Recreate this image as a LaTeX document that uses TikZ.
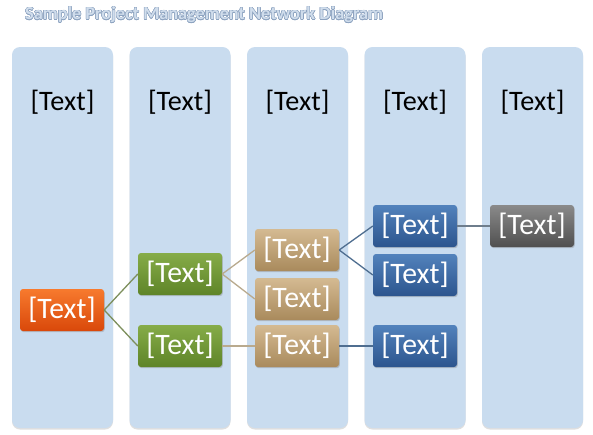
\documentclass[tikz,border=0pt]{standalone}
\usepackage{fontspec}
\setmainfont{Carlito}
\usepackage{xcolor}
\usepackage{contour}
\usetikzlibrary{calc}
\usetikzlibrary{shadows}

\definecolor{colfill}{HTML}{C9DCEF}
\definecolor{titlefill}{HTML}{D0DDEC}
\definecolor{titleline}{HTML}{8DA3C0}
\definecolor{orangetop}{HTML}{F77A2E}
\definecolor{orangebot}{HTML}{D9480A}
\definecolor{greentop}{HTML}{86AC48}
\definecolor{greenbot}{HTML}{5E8428}
\definecolor{tantop}{HTML}{D4BA92}
\definecolor{tanbot}{HTML}{A98A5C}
\definecolor{bluetop}{HTML}{5282BC}
\definecolor{bluebot}{HTML}{2C558E}
\definecolor{graytop}{HTML}{8A8A8A}
\definecolor{graybot}{HTML}{505050}
\definecolor{linkgreen}{HTML}{7D8F5C}
\definecolor{linktan}{HTML}{B9AA8E}
\definecolor{linkblue}{HTML}{4F6E90}
\definecolor{linkgray}{HTML}{6E7D8C}

\contourlength{0.45pt}

\tikzset{
  column/.style={fill=colfill, draw=none, rounded corners=8pt,
    drop shadow={shadow xshift=0pt, shadow yshift=-1.5pt, opacity=0.25}},
  task/.style={rounded corners=3pt, minimum width=84pt, minimum height=42pt,
    inner sep=0pt, text=white, font=\fontsize{29.7}{29.7}\selectfont,
    drop shadow={shadow xshift=0.8pt, shadow yshift=-1.2pt, opacity=0.35}},
  link/.style={line width=1.3pt},
}

\begin{document}
\begin{tikzpicture}[x=1pt, y=-1pt]

      \useasboundingbox (0,0) rectangle (593,434);
      \fill[white] (0,0) rectangle (593,434);

      \node[anchor=west, text=titlefill, inner sep=0pt,
        font=\bfseries\fontsize{18.3}{18.3}\selectfont] (title) at (25,15)
        {\contour{titleline}{Sample Project Management Network Diagram}};

      \foreach \i in {0,...,4} {
        \path[column] ({12+117.5*\i},47) rectangle ({113+117.5*\i},428);
        \node[font=\fontsize{28.2}{28.2}\selectfont] (head\i) at ({62.5+117.5*\i},102) {[Text]};
      }

      \node[task, top color=orangetop, bottom color=orangebot] (start) at (62,310) {[Text]};

      \node[task, top color=greentop, bottom color=greenbot] (greenA) at (180,274) {[Text]};
      \node[task, top color=greentop, bottom color=greenbot] (greenB) at (180,346) {[Text]};

      \node[task, top color=tantop, bottom color=tanbot] (tanA) at (297,250) {[Text]};
      \node[task, top color=tantop, bottom color=tanbot] (tanB) at (297,299) {[Text]};
      \node[task, top color=tantop, bottom color=tanbot] (tanC) at (297,346) {[Text]};

      \node[task, top color=bluetop, bottom color=bluebot] (blueA) at (415,226) {[Text]};
      \node[task, top color=bluetop, bottom color=bluebot] (blueB) at (415,275) {[Text]};
      \node[task, top color=bluetop, bottom color=bluebot] (blueC) at (415,346) {[Text]};

      \node[task, top color=graytop, bottom color=graybot] (finish) at (532,226) {[Text]};

      \draw[link, linkgreen] (start.east) -- (greenA.west);
      \draw[link, linkgreen] (start.east) -- (greenB.west);
      \draw[link, linktan] (greenA.east) -- (tanA.west);
      \draw[link, linktan] (greenA.east) -- (tanB.west);
      \draw[link, linktan] (greenB.east) -- (tanC.west);
      \draw[link, linkblue] (tanA.east) -- (blueA.west);
      \draw[link, linkblue] (tanA.east) -- (blueB.west);
      \draw[link, linkblue] (tanC.east) -- (blueC.west);
      \draw[link, linkgray] (blueA.east) -- (finish.west);
    \end{tikzpicture}
\end{document}
